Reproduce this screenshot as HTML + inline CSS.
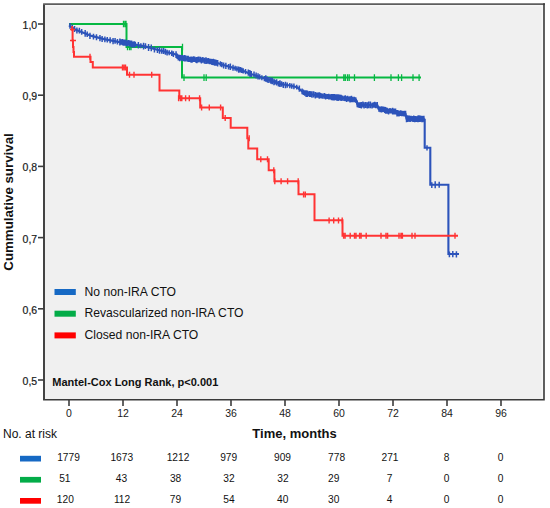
<!DOCTYPE html>
<html><head><meta charset="utf-8"><style>
html,body{margin:0;padding:0;background:#fff;}
body{width:550px;height:508px;overflow:hidden;}
svg{display:block;}
text{font-family:"Liberation Sans",sans-serif;fill:#1a1a1a;}
.tl{font-size:10.5px;fill:#1a1a1a;stroke:#1a1a1a;stroke-width:0.2px;}
.xl{font-size:10.5px;fill:#1a1a1a;}
.lg{font-size:12.15px;fill:#111;}
.mc{font-size:11px;font-weight:bold;fill:#111;}
.yt{font-size:13.3px;font-weight:bold;fill:#111;}
.xt{font-size:13px;font-weight:bold;fill:#111;}
.rk{font-size:12px;fill:#111;}
.rn{font-size:10.2px;fill:#111;}
</style></head><body>
<svg width="550" height="508" viewBox="0 0 550 508">
<rect x="44" y="4" width="500" height="395" fill="#f0f0f0"/>
<path d="M45.5 5.8H542.2V398" stroke="#fafafa" stroke-width="1" fill="none"/>
<path d="M44 399.7V4.2" stroke="#3a3a3a" stroke-width="1.9" fill="none"/>
<path d="M43.1 4.1H544.9" stroke="#5e5e5e" stroke-width="1.7" fill="none"/>
<path d="M544 3.3V400.5M43.1 399.7H544.8" stroke="#3a3a3a" stroke-width="1.6" fill="none"/>
<path d="M38 24H44" stroke="#3d3d3d" stroke-width="1.6"/>
<text x="37.2" y="29" text-anchor="end" class="tl">1,0</text>
<path d="M38 95.2H44" stroke="#3d3d3d" stroke-width="1.6"/>
<text x="37.2" y="100.2" text-anchor="end" class="tl">0,9</text>
<path d="M38 166.4H44" stroke="#3d3d3d" stroke-width="1.6"/>
<text x="37.2" y="171.4" text-anchor="end" class="tl">0,8</text>
<path d="M38 237.6H44" stroke="#3d3d3d" stroke-width="1.6"/>
<text x="37.2" y="242.6" text-anchor="end" class="tl">0,7</text>
<path d="M38 308.8H44" stroke="#3d3d3d" stroke-width="1.6"/>
<text x="37.2" y="313.8" text-anchor="end" class="tl">0,6</text>
<path d="M38 380H44" stroke="#3d3d3d" stroke-width="1.6"/>
<text x="37.2" y="385" text-anchor="end" class="tl">0,5</text>
<path d="M69 399V406" stroke="#3d3d3d" stroke-width="1.6"/>
<text x="69" y="417" text-anchor="middle" class="xl">0</text>
<path d="M123 399V406" stroke="#3d3d3d" stroke-width="1.6"/>
<text x="123" y="417" text-anchor="middle" class="xl">12</text>
<path d="M177 399V406" stroke="#3d3d3d" stroke-width="1.6"/>
<text x="177" y="417" text-anchor="middle" class="xl">24</text>
<path d="M231 399V406" stroke="#3d3d3d" stroke-width="1.6"/>
<text x="231" y="417" text-anchor="middle" class="xl">36</text>
<path d="M285 399V406" stroke="#3d3d3d" stroke-width="1.6"/>
<text x="285" y="417" text-anchor="middle" class="xl">48</text>
<path d="M339 399V406" stroke="#3d3d3d" stroke-width="1.6"/>
<text x="339" y="417" text-anchor="middle" class="xl">60</text>
<path d="M393 399V406" stroke="#3d3d3d" stroke-width="1.6"/>
<text x="393" y="417" text-anchor="middle" class="xl">72</text>
<path d="M447 399V406" stroke="#3d3d3d" stroke-width="1.6"/>
<text x="447" y="417" text-anchor="middle" class="xl">84</text>
<path d="M501 399V406" stroke="#3d3d3d" stroke-width="1.6"/>
<text x="501" y="417" text-anchor="middle" class="xl">96</text>
<path d="M69 24 L126.5 24 L126.5 47 L182 47 L182 77.6 L421 77.6" stroke="#06b842" stroke-width="2" fill="none"/>
<path d="M123.5 20.7V27.3M125 20.7V27.3M126 20.7V27.3M127.5 43.7V50.3M129.5 43.7V50.3M131 43.7V50.3M182.5 43.7V50.3M184 74.3V80.9M204 74.3V80.9M206.2 74.3V80.9M336.8 74.3V80.9M343.8 74.3V80.9M345.3 74.3V80.9M347.5 74.3V80.9M349.2 74.3V80.9M354.5 74.3V80.9M374.4 74.3V80.9M391 74.3V80.9M398.4 74.3V80.9M401.6 74.3V80.9M413 74.3V80.9M419.1 74.3V80.9" stroke="#06b842" stroke-width="1.3" fill="none"/>
<path d="M69 25.3 L72 27.3 L75 29.5 L79 31 L91.5 35.9 L104 39.1 L117 41.6 L130 43.6 L145 46.4 L160 50.5 L176 54.5 L178.5 57.6 L190 59.3 L205 60.3 L215 62.3 L225 65.5 L240 69.6 L250 73.7 L260 77 L270 80.3 L280 83.9 L290 85.5 L297 87.2 L304 93 L315 95 L330 96.7 L340 97.9 L356 99.7 L357.5 104.8 L377.5 105.4 L378.5 109 L385 109.4 L386 110.9 L395.5 111.2 L396.5 113.3 L405.5 113.6 L406.5 118.8 L424.7 118.8" stroke="#2c53ba" stroke-width="2.2" fill="none" stroke-linejoin="round"/>
<path d="M424.7 118.8 L424.7 147.7 L430.3 147.7 L430.3 184.8 L448.4 184.8 L448.4 254 L459 254" stroke="#2c53ba" stroke-width="2.1" fill="none"/>
<path d="M70 22.98V28.71M72.24 24.5V30.02M74.56 26.03V32.11M76.91 27.47V33.56M79.37 27.75V33.56M81.69 29.02V34.78M85.17 29.89V36.76M87.21 31.52V36.94M89.96 32.71V38.88M93.47 33.65V39.53M96.5 34.21V40.35M99.95 34.94V41.35M102.13 36.08V41.93M104.88 36.51V42.31M107.27 36.93V42.49M110.14 37.25V43.24M113.06 38.01V44.14M115.08 38.12V43.67M117.43 38.96V44.61M119.88 38.54V45.51M121.23 39.2V44.67M122.48 39.11V45.36M123.38 39.49V45.83M124.66 39.62V45.76M125.54 39.42V45.78M126.71 40.22V46.52M127.59 40.59V45.98M128.39 39.96V45.83M129.71 40.15V46.79M130.64 40.8V46.46M131.57 40.56V47.39M132.96 41.58V47.13M134.28 41.34V47.4M135.25 41.78V47.16M138.39 42.06V48.54M140.85 43.14V48.3M143.54 42.74V49.48M145.47 43.33V48.96M148.57 44.11V50.95M151.28 44.52V51.36M154.42 46.52V52.39M157.45 47.14V52.98M159.53 46.83V53.63M161.71 48.37V53.68M163.58 47.89V53.97M165.41 48.72V54.75M167.11 49.68V55.43M169.2 50.35V55.33M171.76 50.58V55.93M173.37 51.37V56.93M176.05 51.27V58.02M177.19 53.41V58.89M178.3 54.58V60.48M179.78 54.8V61.31M181.01 55.12V60.44M182.13 54.9V60.72M183.37 55.16V61.33M184.76 55.03V61.59M185.7 55.52V61.38M187.29 55.84V61.6M188.2 55.73V62.05M189.63 56.68V61.93M191.12 56.53V62.66M192.03 56.82V62.69M193.48 56.35V62.03M194.64 56.41V62.12M195.94 57.15V62.81M196.85 57.07V63.21M197.78 56.84V62.61M198.81 56.53V62.32M200.38 56.72V62.46M201.42 57.48V63.6M202.85 56.94V62.82M204.4 57.72V63.83M205.96 57.29V63.88M207.1 58.15V63.87M208.24 58.12V63.63M209.51 58.4V64.34M210.96 58.67V64.35M211.93 59.12V65.08M213.35 58.79V65.34M214.81 59.34V65.68M216.31 59.7V65.83M217.67 60.07V66.44M220.39 61.15V66.54M221.82 62.04V67.13M223.64 62.62V68.53M225.85 62.76V69.05M228.53 64.06V69.43M230.34 63.49V70.1M233.03 64.78V70.65M235.14 65.75V70.86M236.91 66.17V71.61M238.69 66.38V72.7M240.25 67.12V72.41M241.67 67.55V72.88M243.19 68.17V73.59M245.53 68.89V74.3M248.32 69.5V75.86M249.87 70.12V76.87M251.24 70.9V77.07M254.02 71.49V77.57M256.12 72.52V78.47M258.03 73.14V79.62M259.68 74.3V79.54M261.87 75.19V80.3M264.41 75.96V81.34M265.78 75.34V81.74M267.12 76.57V82.31M268.16 76.95V82.97M269.89 77V82.86M270.92 77.94V83.84M272.31 77.6V84.31M273.98 78.82V85.31M275.09 79.72V84.61M276.67 79.37V85.6M278.43 80.88V86.39M279.94 80.29V86.9M281.57 81.33V86.66M283.3 81.94V87.91M285.42 81.78V88.29M287.2 82.59V87.74M289.81 83.01V88.35M291.77 83.46V88.64M293.91 83.56V89.22M296.71 84.67V89.57M299.33 85.57V91.75M302.1 88.42V94.31M303.36 89.44V94.97M304.66 90.34V95.65M306.14 90.34V96.89M307.42 90.5V97.05M308.55 91.17V96.25M309.78 91V97.03M310.8 91.15V97.09M312 91.3V97.72M313.69 91.27V97.53M315.36 92.1V98.43M316.76 92.53V97.74M318.06 92.57V97.85M319.23 92.15V98.86M320.2 92.81V98.14M321.32 93.22V98.41M322.84 93.39V98.8M324.44 92.98V98.76M325.62 93.73V99.44M327.15 93.92V99.02M328.67 93.81V99.4M330.13 94.2V99.62M331.56 94.11V100.19M333.07 94V100.54M334.26 94.03V100.52M335.72 94.3V100.32M336.85 94.14V100.71M338.14 94.13V100.95M339.65 94.62V100.58M341.1 94.65V100.88M342.24 95.6V100.63M343.9 95.74V101.05M345.32 95.29V101.24M346.68 96.18V101.97M347.59 95.69V101.19M348.93 96.44V101.46M350.03 96.2V102.46M351.46 95.65V102.32M352.74 96.66V102.25M354.29 96.67V102.3M355.71 97.25V102.77M357.24 100.54V107.2M358.42 102.31V107.86M359.84 102.26V108.12M361.33 101.98V108.44M362.89 101.61V107.5M364.07 102.22V108.5M365.65 102.09V107.97M367.24 102.16V108.41M368.69 101.61V108.17M370.37 101.62V108.3M372.04 102.71V108.61M373.35 102.37V107.74M374.68 101.74V107.75M375.71 102.25V108.32M377.28 101.94V108.26M378.93 106.37V111.76M380.21 106.46V112.18M381.66 106.37V112.5M383.14 106.6V112.11M384.62 106.68V112.96M385.66 106.98V113.81M387.18 107.8V113.82M388.55 108.41V114.38M389.98 108.04V113.47M391.22 108.46V113.58M392.62 107.85V114.59M394.14 108.52V114.51M395.55 108.51V114.52M397.02 109.88V116.47M397.95 109.99V116.2M398.97 110.97V116.4M400.23 110.32V116.05M401.65 110.6V116.25M402.72 111.07V116.28M404.17 110.7V116.53M405.57 110.75V116.87M406.51 115.22V122.18M407.54 115.29V122.03M408.46 115.6V121.84M409.28 115.44V121.64M410.15 115.69V122.02M411.11 115.77V121.54M412 116.31V121.3M412.9 115.97V121.9M413.72 115.49V122.06M414.75 116.03V122.32M415.74 116.07V122.06M416.84 116.31V122.1M417.94 115.6V122.35M418.86 115.32V122.03M420.11 115.39V122.09M420.91 115.67V121.45M421.91 115.78V122.28M422.85 116.11V122.37M423.86 115.75V121.67M427 145.3V150.57M431.8 182.19V187.98M435.2 181.32V188.29M439.2 181.66V187.66M449.4 251.47V257.23M452.8 250.94V257.26M456.4 251.15V257.46" stroke="#2c53ba" stroke-width="1.5" fill="none"/>
<path d="M72.2 26 L72.2 30 L72.6 30 L72.6 40.4 L73 40.4 L73 47 L73.5 47 L73.5 52 L74 52 L74 56.7 L90.5 56.7 L90.5 62 L92.8 62 L92.8 67.6 L125.5 67.6 L127 67.6 L127 74.8 L159.5 74.8 L159.5 90.5 L179.3 90.5 L179.3 98.2 L200.2 98.2 L200.2 107.4 L222.8 107.4 L222.8 117.9 L230.7 117.9 L230.7 127.8 L247.3 127.8 L247.3 138.2 L248.3 138.2 L248.3 148.6 L257.2 148.6 L257.2 159.2 L268.7 159.2 L268.7 170.3 L274.4 170.3 L274.4 181.3 L298.5 181.3 L298.5 194.2 L314.5 194.2 L314.5 220.3 L342.5 220.3 L342.5 235.8 L458 235.8" stroke="#ff3333" stroke-width="2.0" fill="none"/>
<path d="M90 53.8V59.8M122.5 64.6V70.6M124 64.6V70.6M125.5 64.6V70.6M129.5 71.8V77.8M134 71.8V77.8M151.7 71.8V77.8M178.6 95.2V101.2M180.5 95.2V101.2M181.8 95.2V101.2M185.6 95.2V101.2M189.3 95.2V101.2M199.6 95.2V101.2M201.6 104.4V110.4M209.3 104.4V110.4M220.6 104.4V110.4M225.2 114.9V120.9M249.2 135.2V141.2M260.8 156.2V162.2M267.5 156.2V162.2M273.8 167.3V173.3M274.8 178.3V184.3M281.1 178.3V184.3M287.6 178.3V184.3M298.2 178.3V184.3M303.6 191.6V197.6M305.3 191.6V197.6M329.1 217.6V223.6M333.7 217.6V223.6M338.5 217.6V223.6M342.2 217.6V223.6M343.6 232.8V238.8M345.1 232.8V238.8M350.2 232.8V238.8M354.5 232.8V238.8M356 232.8V238.8M359.6 232.8V238.8M361.1 232.8V238.8M366.2 232.8V238.8M381 232.8V238.8M386 232.8V238.8M387.6 232.8V238.8M399 232.8V238.8M401 232.8V238.8M402.4 232.8V238.8M412 232.8V238.8M415 232.8V238.8M455 232.8V238.8" stroke="#ff3333" stroke-width="1.4" fill="none"/>
<path d="M70 40.5H76M70 29.5H75" stroke="#ff3333" stroke-width="1.4"/>
<rect x="54.5" y="289" width="21.3" height="6" fill="#1669c4"/>
<text x="84.5" y="295.5" class="lg">No non-IRA CTO</text>
<rect x="54.5" y="310.7" width="21.3" height="6" fill="#03ac48"/>
<text x="84.5" y="317.2" class="lg">Revascularized non-IRA CTO</text>
<rect x="54.5" y="332.4" width="21.3" height="6" fill="#ff0000"/>
<text x="84.5" y="338.9" class="lg">Closed non-IRA CTO</text>
<text x="52.3" y="385.5" class="mc">Mantel-Cox Long Rank, p&lt;0.001</text>
<text x="13.3" y="202" transform="rotate(-90 13.3 202)" text-anchor="middle" class="yt">Cummulative survival</text>
<text x="294.5" y="438" text-anchor="middle" class="xt">Time, months</text>
<text x="3" y="438.2" class="rk">No. at risk</text>
<rect x="20" y="455.8" width="21" height="5.7" fill="#1669c4"/>
<text x="68.5" y="461" text-anchor="middle" class="rn">1779</text>
<text x="121.8" y="461" text-anchor="middle" class="rn">1673</text>
<text x="178" y="461" text-anchor="middle" class="rn">1212</text>
<text x="228.7" y="461" text-anchor="middle" class="rn">979</text>
<text x="282.5" y="461" text-anchor="middle" class="rn">909</text>
<text x="336.6" y="461" text-anchor="middle" class="rn">778</text>
<text x="390" y="461" text-anchor="middle" class="rn">271</text>
<text x="446.7" y="461" text-anchor="middle" class="rn">8</text>
<text x="500.5" y="461" text-anchor="middle" class="rn">0</text>
<rect x="20" y="476.9" width="21" height="5.7" fill="#03ac48"/>
<text x="64.8" y="482.1" text-anchor="middle" class="rn">51</text>
<text x="121.5" y="482.1" text-anchor="middle" class="rn">43</text>
<text x="175.6" y="482.1" text-anchor="middle" class="rn">38</text>
<text x="229" y="482.1" text-anchor="middle" class="rn">32</text>
<text x="283" y="482.1" text-anchor="middle" class="rn">32</text>
<text x="333.7" y="482.1" text-anchor="middle" class="rn">29</text>
<text x="389.7" y="482.1" text-anchor="middle" class="rn">7</text>
<text x="446.7" y="482.1" text-anchor="middle" class="rn">0</text>
<text x="500.5" y="482.1" text-anchor="middle" class="rn">0</text>
<rect x="20" y="498" width="21" height="5.7" fill="#ff0000"/>
<text x="65.3" y="503.2" text-anchor="middle" class="rn">120</text>
<text x="122" y="503.2" text-anchor="middle" class="rn">112</text>
<text x="175.4" y="503.2" text-anchor="middle" class="rn">79</text>
<text x="229" y="503.2" text-anchor="middle" class="rn">54</text>
<text x="282.7" y="503.2" text-anchor="middle" class="rn">40</text>
<text x="333.7" y="503.2" text-anchor="middle" class="rn">30</text>
<text x="389.7" y="503.2" text-anchor="middle" class="rn">4</text>
<text x="446.7" y="503.2" text-anchor="middle" class="rn">0</text>
<text x="500.5" y="503.2" text-anchor="middle" class="rn">0</text>
</svg>
</body></html>
